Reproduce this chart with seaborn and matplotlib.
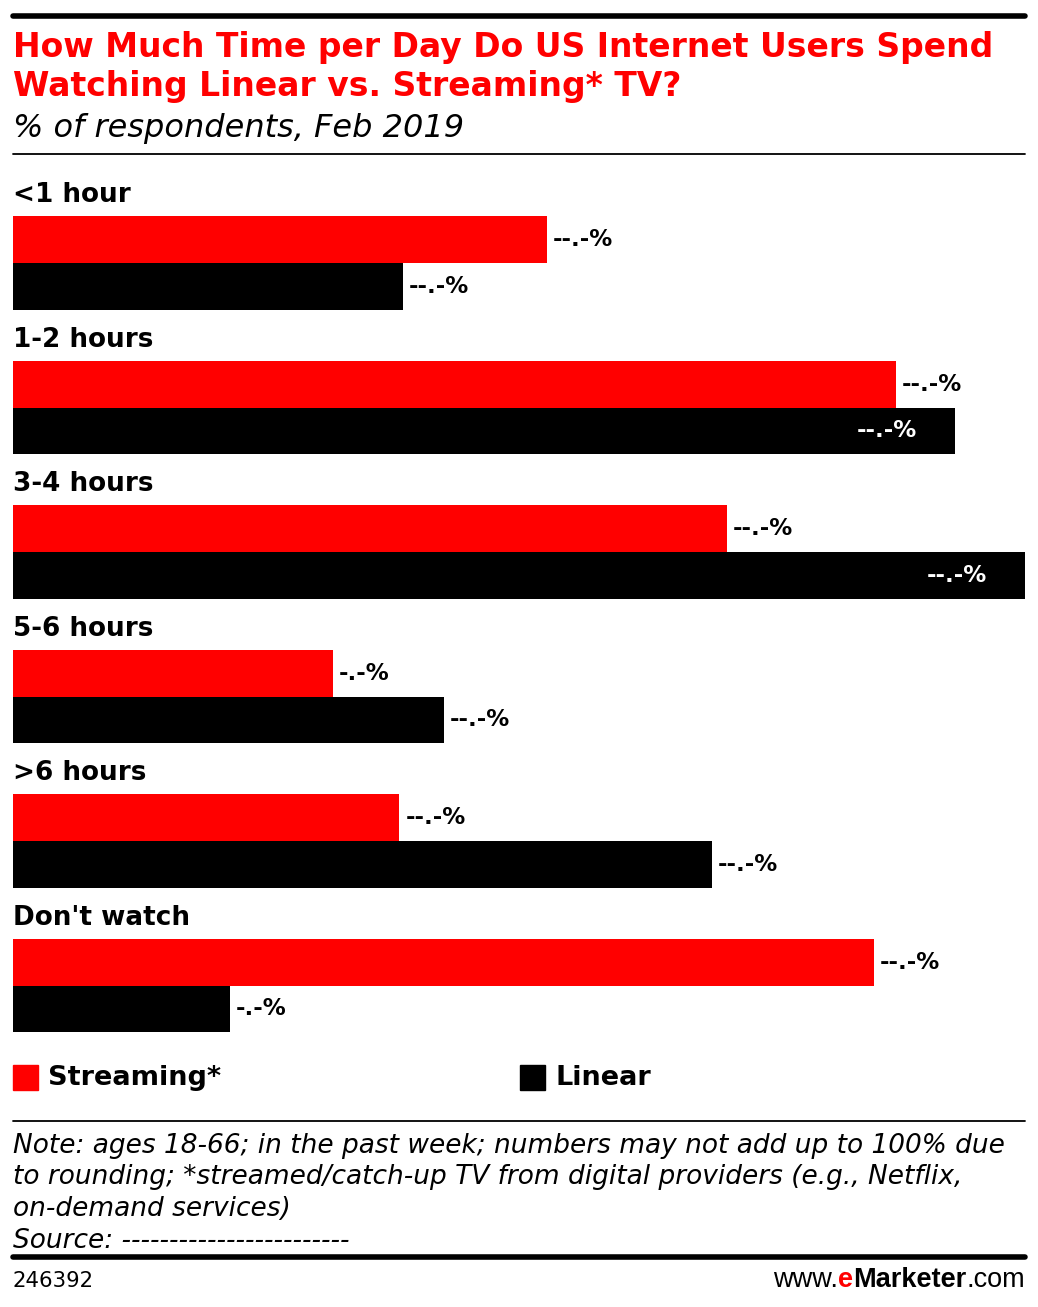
import seaborn as sns
import pandas as pd
import numpy as np
import matplotlib.pyplot as plt
from matplotlib.patches import Rectangle
from matplotlib.lines import Line2D

categories = ['<1 hour', '1-2 hours', '3-4 hours', '5-6 hours', '>6 hours', "Don't watch"]
series = ['Streaming*', 'Linear']
streaming = [14.5, 24.0, 19.4, 8.7, 10.5, 23.4]
linear = [10.6, 25.6, 27.5, 11.7, 19.0, 5.9]
value_labels_streaming = ['--.-%', '--.-%', '--.-%', '-.-%', '--.-%', '--.-%']
value_labels_linear = ['--.-%', '--.-%', '--.-%', '--.-%', '--.-%', '-.-%']

RED = '#ff0000'
W, H = 1038, 1307

data = pd.DataFrame({
    'cat': categories * 2,
    'series': [series[0]] * 6 + [series[1]] * 6,
    'value': streaming + linear,
})

sns.set_style('white')
plt.rcParams['font.family'] = ['DejaVu Sans']
plt.rcParams['text.color'] = 'black'
fig = plt.figure(figsize=(W / 100, H / 100), dpi=100)

def fx(px):
    return px / W

def fy(py):
    return 1 - py / H

# plot area: group centres at 263 ... 985.5 px
top_px, bot_px = 263 - 72.25, 985.5 + 72.25
ax = fig.add_axes([fx(13), fy(bot_px), fx(1012), (bot_px - top_px) / H])
sns.barplot(data=data, y='cat', x='value', hue='series', order=categories,
            hue_order=series, palette=[RED, 'black'], width=0.648,
            orient='h', ax=ax, legend=False, saturation=1, linewidth=0)
ax.set_xlim(0, max(linear))
ax.set_ylim(5.5, -0.5)
ax.axis('off')

# value labels
for cont, labs in zip(ax.containers, [value_labels_streaming, value_labels_linear]):
    for p, lab in zip(cont.patches, labs):
        w = p.get_width()
        yc = p.get_y() + p.get_height() / 2
        if w > 25:
            ax.annotate(lab, (w, yc), xytext=(-38, 0), textcoords='offset pixels',
                        ha='right', va='center', color='white', fontsize=16.5, fontweight='bold')
        else:
            ax.annotate(lab, (w, yc), xytext=(6, 0), textcoords='offset pixels',
                        ha='left', va='center', color='black', fontsize=16.5, fontweight='bold')

# category labels above each group
for i, c in enumerate(categories):
    ax.text(0, i - 0.47, c, ha='left', va='center', fontsize=18.9, fontweight='bold',
            color='black')

# rules
fig.add_artist(Line2D([fx(13), fx(1025)], [fy(15.5), fy(15.5)], color='black', lw=4))
fig.add_artist(Line2D([fx(13), fx(1025)], [fy(154), fy(154)], color='black', lw=1.3))
fig.add_artist(Line2D([fx(13), fx(1025)], [fy(1121), fy(1121)], color='black', lw=1.3))
fig.add_artist(Line2D([fx(13), fx(1025)], [fy(1257), fy(1257)], color='black', lw=4))

# title
fig.text(fx(13), fy(57), 'How Much Time per Day Do US Internet Users Spend',
         color=RED, fontsize=23.8, fontweight='bold', ha='left', va='baseline')
fig.text(fx(13), fy(96), 'Watching Linear vs. Streaming* TV?',
         color=RED, fontsize=23.8, fontweight='bold', ha='left', va='baseline')
fig.text(fx(13), fy(137), '% of respondents, Feb 2019', color='black',
         fontsize=23, style='italic', ha='left', va='baseline')

# legend
for x0, col, lab in [(13, RED, series[0]), (520, 'black', series[1])]:
    fig.add_artist(Rectangle((fx(x0), fy(1090)), fx(25), 25 / H, color=col,
                             transform=fig.transFigure))
    fig.text(fx(x0 + 35), fy(1078), lab, fontsize=19.5, fontweight='bold',
             ha='left', va='center')

# note
notes = ['Note: ages 18-66; in the past week; numbers may not add up to 100% due',
         'to rounding; *streamed/catch-up TV from digital providers (e.g., Netflix,',
         'on-demand services)',
         'Source: ------------------------']
for k, n in enumerate(notes):
    fig.text(fx(13), fy(1153 + k * 31.5), n, fontsize=19, style='italic',
             ha='left', va='baseline')

# footer
fig.text(fx(13), fy(1287), '246392', fontsize=15.3, ha='left', va='baseline')
fig.canvas.draw()
r = fig.canvas.get_renderer()
x = 1025
for txt, col, wt in [('.com', 'black', 'normal'), ('Marketer', 'black', 'bold'),
                     ('e', RED, 'bold'), ('www.', 'black', 'normal')]:
    t = fig.text(fx(x), fy(1287), txt, fontsize=19.5, color=col, fontweight=wt,
                 family='Liberation Sans', ha='right', va='baseline')
    x -= t.get_window_extent(r).width

fig.savefig('out.png', dpi=100)
